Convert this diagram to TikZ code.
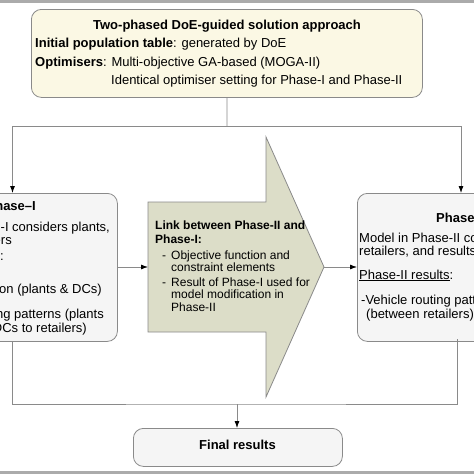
\documentclass[tikz,border=0pt]{standalone}
\usepackage{fontspec}
\setmainfont{Liberation Sans}
\usetikzlibrary{arrows.meta}
\definecolor{cream}{HTML}{FBF8E4}
\definecolor{boxgray}{HTML}{F5F5F5}
\definecolor{olivefill}{HTML}{DCDDC8}
\definecolor{edgegray}{HTML}{8A8A8A}
\definecolor{bandgray}{HTML}{ABABAB}
\begin{document}
\begin{tikzpicture}[x=1pt,y=-1pt,
  box/.style={draw=edgegray, line width=0.8pt, rounded corners=10pt, inner sep=0pt, anchor=north west},
  conn/.style={draw=edgegray, line width=0.8pt},
  arr/.style={conn, -{Latex[length=7pt,width=5pt,color=black]}},
  txt/.style={font=\fontsize{13}{14}\selectfont, inner sep=0pt, anchor=base west},
  btxt/.style={txt, font=\bfseries\fontsize{13}{14}\selectfont},
  txte/.style={txt, anchor=base east},
  atxt/.style={font=\fontsize{12}{14}\selectfont, inner sep=0pt, anchor=base west}
]
\useasboundingbox (0,0) rectangle (474,474);
\clip (0,0) rectangle (474,474);
\fill[white] (0,0) rectangle (474,474);
\fill[bandgray] (0,0) rectangle (474,3);
\fill[bandgray] (0,471) rectangle (474,474);

% top box
\node[box, fill=cream, minimum width=391pt, minimum height=88pt] (top) at (31,9) {};
\node[btxt, anchor=base] (t1) at (227,29) {Two-phased DoE-guided solution approach};
\node[txt] (t2) at (35,47.5) {\textbf{Initial population table}: generated by DoE};
\node[txt] (t3) at (35,66.5) {\textbf{Optimisers}: Multi-objective GA-based (MOGA-II)};
\node[txt] (t4) at (111,84.5) {Identical optimiser setting for Phase-I and Phase-II};

% left box
\node[box, fill=boxgray, minimum width=237pt, minimum height=148pt] (left) at (-120,193) {};
\node[btxt, anchor=base east] (l1) at (36,210) {Phase--I};
\node[txte] (l2) at (110,231.5) {Phase-I considers plants,};
\node[txte] (l3) at (12,244) {retailers};
\node[txte] (l4) at (4,260.5) {\underline{results}:};
\node[txte] (l5) at (102,293) {allocation (plants \& DCs)};
\node[txte] (l6) at (104,318) {routing patterns (plants};
\node[txte] (l7) at (87,332) {DCs to retailers)};

% right box
\node[box, fill=boxgray, minimum width=240pt, minimum height=148pt] (right) at (357,193) {};
\node[btxt] (r1) at (436,222.5) {Phase-II};
\node[txt] (r2) at (359,242) {Model in Phase-II considers};
\node[txt] (r3) at (359,255.5) {retailers, and results};
\node[txt] (r4) at (359,279) {\underline{Phase-II results}:};
\node[txt] (r5) at (361,304) {-Vehicle routing patterns};
\node[txt] (r6) at (366,318) {(between retailers)};

% big arrow
\draw[draw=edgegray, line width=0.8pt, fill=olivefill, line join=miter]
  (148,202) -- (266,202) -- (266,137) -- (324,267) -- (266,397) -- (266,332) -- (148,332) -- cycle;
\coordinate (linkin) at (148,267);
\coordinate (linkout) at (324,267);
\node[atxt, font=\bfseries\fontsize{12}{14}\selectfont] (a1) at (155,229.5) {Link between Phase-II and};
\node[atxt, font=\bfseries\fontsize{12}{14}\selectfont] (a2) at (155,243.5) {Phase-I:};
\node[atxt] (a3) at (162,259.5) {-};
\node[atxt] (a4) at (171,259.5) {Objective function and};
\node[atxt] (a5) at (171,271.5) {constraint elements};
\node[atxt] (a6) at (162,286.5) {-};
\node[atxt] (a7) at (171,286.5) {Result of Phase-I used for};
\node[atxt] (a8) at (171,298.5) {model modification in};
\node[atxt] (a9) at (171,311.5) {Phase-II};

% final box
\node[box, fill=boxgray, minimum width=209pt, minimum height=38pt] (final) at (133,428) {};
\node[btxt, anchor=center] (f1) at (237.5,444.5) {Final results};

% connectors
\coordinate (split) at (227,126);
\coordinate (lin) at (12.5,193);
\coordinate (rin) at (461,193);
\draw[conn] (top.south) -- (split);
\draw[arr] (split) -| (lin);
\draw[arr] (split) -| (rin);
\coordinate (lout) at (117,267);
\coordinate (rinl) at (357,267);
\draw[arr] (lout) -- (linkin);
\draw[arr] (linkout) -- (rinl);
\coordinate (lbot) at (12.5,341);
\coordinate (rbot) at (457,339);
\coordinate (merge) at (237,404);
\draw[conn] (lbot) |- (merge) -| (rbot);
\draw[arr] (merge) -- (final.north -| merge);
\end{tikzpicture}
\end{document}
